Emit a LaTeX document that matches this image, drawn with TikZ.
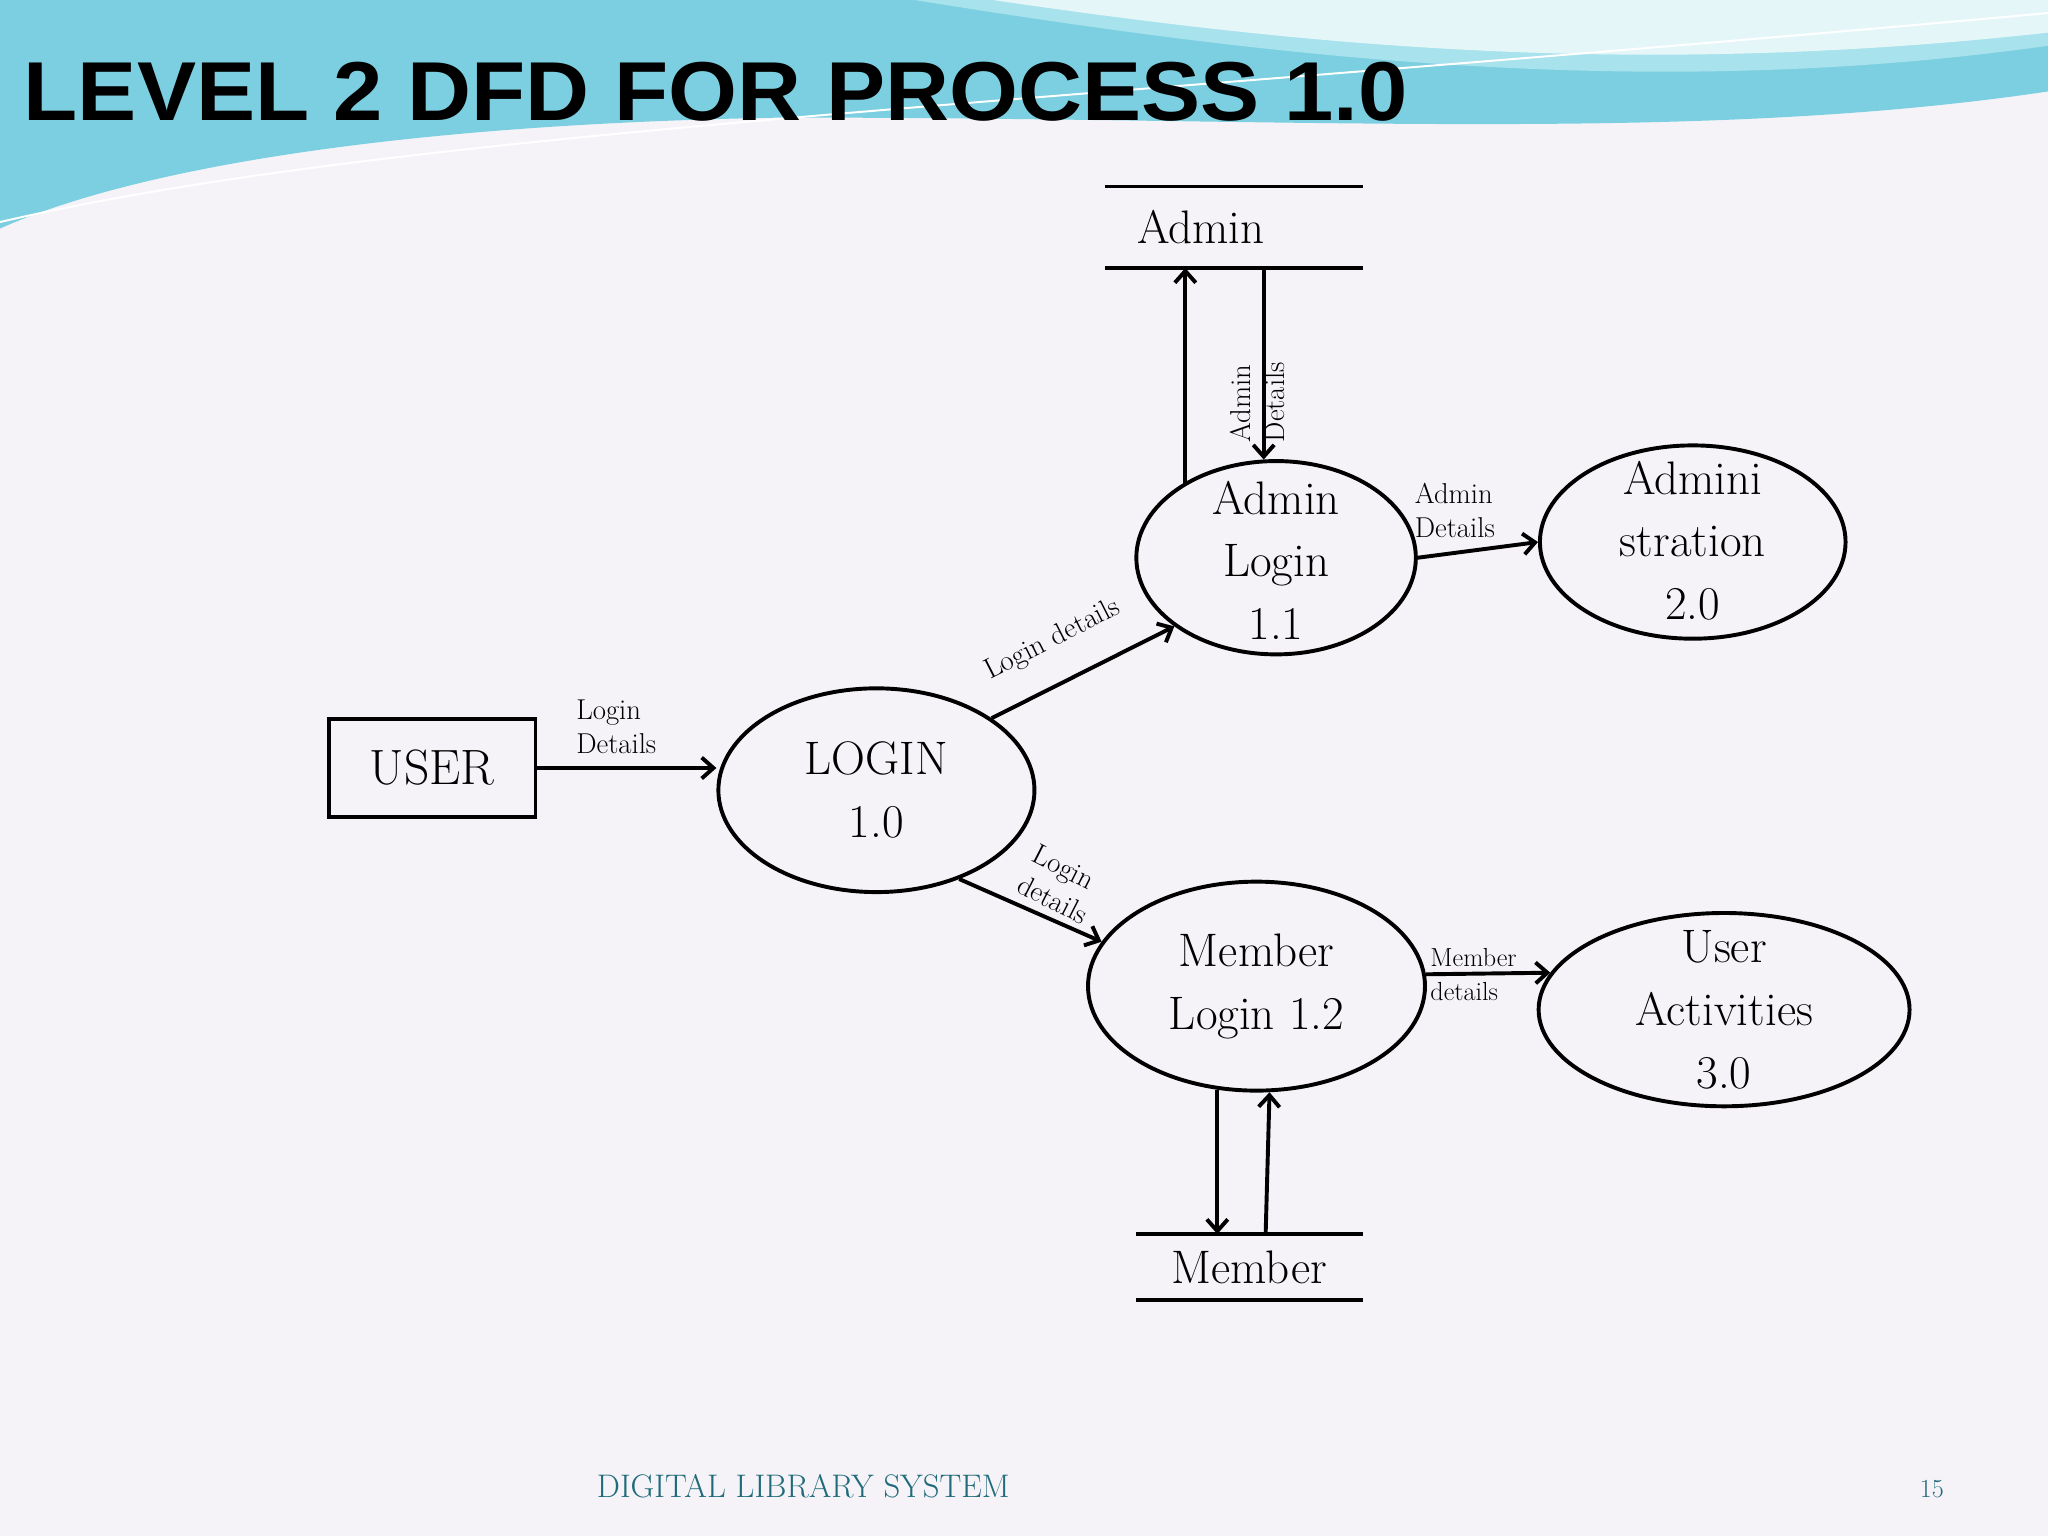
\documentclass[tikz,border=0pt]{standalone}
\usepackage{fontspec}
\newfontfamily\titlefont{Liberation Sans}
\usetikzlibrary{shapes.geometric,arrows.meta,calc}
\definecolor{bg}{HTML}{F5F3F7}
\definecolor{wave}{HTML}{7CCFE0}
\definecolor{wave2}{HTML}{A8E2EC}
\definecolor{foot}{HTML}{1F6B7A}
\begin{document}
\begin{tikzpicture}[x=1pt,y=-1pt,
  proc/.style={ellipse,draw,line width=3pt,inner sep=0pt},
  ptext/.style={align=center,font=\fontsize{36}{48}\selectfont,inner sep=0pt},
  store/.style={rectangle,inner sep=0pt,font=\fontsize{36}{40}\selectfont},
  flow/.style={line width=3pt,-{Straight Barb[length=9pt,width=16pt,line width=3pt]}},
  lab/.style={font=\fontsize{22}{26}\selectfont,align=left,inner sep=1pt}]
\useasboundingbox (0,0) rectangle (1568,1176);
\fill[bg] (0,0) rectangle (1568,1176);
% top wave
\fill[wave] (0,0) -- (1568,0) -- (1568,70) .. controls (1300,110) and (1000,90) .. (600,90) .. controls (300,95) and (100,130) .. (0,175) -- cycle;
\fill[wave2] (700,0) .. controls (950,40) and (1250,80) .. (1568,35) -- (1568,0) -- cycle;
\fill[white,opacity=0.7] (760,0) .. controls (1000,35) and (1250,60) .. (1568,25) -- (1568,0) -- cycle;
\draw[white,line width=1.5pt] (0,170) .. controls (300,100) and (800,80) .. (1568,10);
\node[anchor=base west,font=\titlefont\bfseries\fontsize{64}{70}\selectfont,inner sep=0pt] (title) at (18,92) {\scalebox{1.06}[1]{LEVEL 2 DFD FOR PROCESS 1.0}};

\node[draw,line width=3pt,minimum width=158pt,minimum height=75pt,font=\fontsize{38}{40}\selectfont] (user) at (331,588) {USER};
\node[proc,minimum width=242pt,minimum height=156pt] (login) at (671,605) {};
\node[ptext] (tlogin) at (671,605) {LOGIN\\1.0};
\node[proc,minimum width=214pt,minimum height=148pt] (al) at (977,427) {};
\node[ptext] (tal) at (977,429) {Admin\\Login\\1.1};
\node[proc,minimum width=234pt,minimum height=148pt] (ad2) at (1296,415) {};
\node[ptext] (tad2) at (1296,414) {Admini\\stration\\2.0};
\node[proc,minimum width=258pt,minimum height=160pt] (ml) at (962,755) {};
\node[ptext] (tml) at (962,755) {Member\\Login 1.2};
\node[proc,minimum width=284pt,minimum height=148pt] (ua) at (1320,773) {};
\node[ptext] (tua) at (1320,773) {User\\Activities\\3.0};

\node[store,minimum width=197pt,minimum height=62pt] (adm) at (944.5,174) {\hspace*{-50pt}Admin};
\draw[line width=3pt] (adm.north west) -- (adm.north east) (adm.south west) -- (adm.south east);
\node[store,minimum width=173pt,minimum height=50pt] (mem) at (956.5,970) {\raisebox{-10pt}{Member}};
\draw[line width=3pt] (mem.north west) -- (mem.north east) (mem.south west) -- (mem.south east);

\draw[flow] (user.east) -- (user.east -| login.west);
\node[lab,anchor=south west] (l1) at (440,578) {Login\\Details};
\draw[flow] (login.32.6) -- (al.214.5);
\node[lab,rotate=27] (l2) at (806,490) {Login details};
\draw[flow] (login.-47.6) -- (ml.164);
\node[lab,rotate=-27,align=left] (l3) at (812,677) {Login\\details};
\coordinate (a1) at ($(adm.south)+(-37,0)$);
\coordinate (a2) at ($(adm.south)+(23,0)$);
\draw[flow] (a1 |- al.141) -- (a1);
\draw[flow] (a2) -- (a2 |- al.98);
\node[lab,rotate=90,align=left] (l4) at (963,308) {Admin\\Details};
\draw[flow] (al.east) -- (ad2.west);
\node[lab,anchor=south west] (l5) at (1082,413) {Admin\\Details};
\draw[flow] (ml.4) -- (ua.168);
\node[lab,anchor=west,font=\fontsize{20}{26}\selectfont] (l6) at (1094,746) {Member\\details};
\coordinate (m1) at ($(mem.north)+(-24.5,0)$);
\coordinate (m2) at ($(mem.north)+(12.5,0)$);
\draw[flow] (m1 |- ml.-111) -- (m1);
\draw[flow] (m2) -- (ml.-83);

\node[text=foot,font=\fontsize{25}{28}\selectfont] (f1) at (615,1138) {DIGITAL LIBRARY SYSTEM};
\node[text=foot,font=\fontsize{20}{24}\selectfont] (f2) at (1479,1140) {15};
\end{tikzpicture}
\end{document}
